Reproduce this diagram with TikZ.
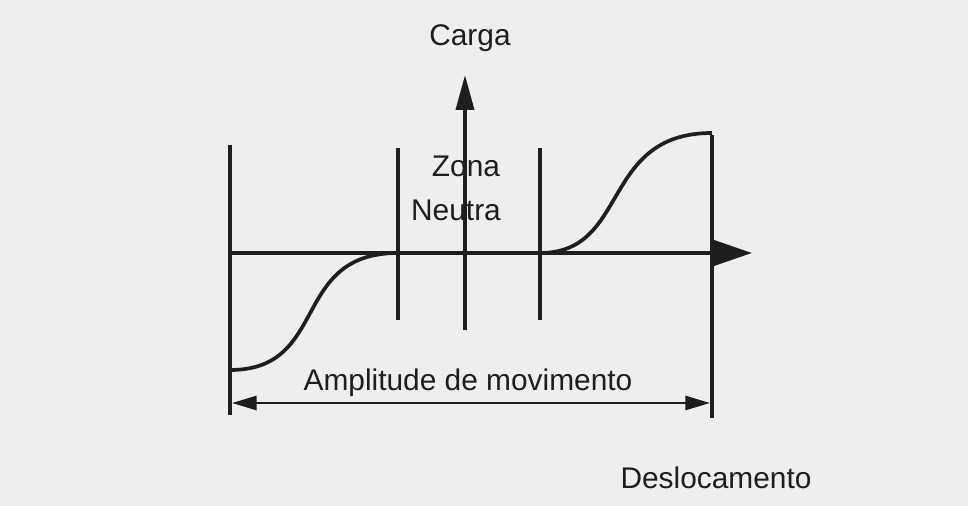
\documentclass[tikz,border=0pt]{standalone}
\usepackage{fontspec}
\setmainfont{Liberation Sans}
\usetikzlibrary{arrows.meta}
\definecolor{bg}{HTML}{EEEEEE}
\definecolor{ink}{HTML}{1E1E1E}
\tikzset{
  ln/.style={draw=ink,line width=2.1pt},
  lbl/.style={text=ink,font=\fontsize{17}{19}\selectfont,inner sep=0pt}
}
\begin{document}
\begin{tikzpicture}[x=0.02cm,y=-0.02cm]
\fill[bg] (0,0) rectangle (968,506);
\useasboundingbox (0,0) rectangle (968,506);
% verticals
\coordinate (a1) at (230,145); \coordinate (a2) at (230,415);
\coordinate (b1) at (398,148); \coordinate (b2) at (398,320);
\coordinate (c1) at (540,148); \coordinate (c2) at (540,320);
\coordinate (d1) at (712,135); \coordinate (d2) at (712,418);
\draw[ln] (a1)--(a2); \draw[ln] (b1)--(b2); \draw[ln] (c1)--(c2); \draw[ln] (d1)--(d2);
% axis
\coordinate (h1) at (230,253); \coordinate (h2) at (752,253);
\draw[ln,-{Triangle[length=0.76cm,width=0.5cm]}] (h1)--(h2);
% load arrow
\coordinate (v1) at (465,330); \coordinate (v2) at (465,75);
\draw[ln,-{Triangle[length=0.7cm,width=0.36cm]}] (v1)--(v2);
% curves
\coordinate (p0) at (230,370); \coordinate (p1) at (398,253);
\draw[ln] (p0) .. controls (330,370) and (290,253) .. (p1);
\coordinate (q0) at (540,253); \coordinate (q1) at (712,133);
\draw[ln] (q0) .. controls (630,253) and (600,133) .. (q1);
% range arrow
\coordinate (r1) at (232,403); \coordinate (r2) at (710,403);
\draw[draw=ink,line width=1.5pt,{Triangle[length=14pt,width=8pt]}-{Triangle[length=14pt,width=8pt]}] (r1)--(r2);
% labels
\node[lbl] (carga) at (470,38) {Carga};
\node[lbl] (zona) at (466,166) {Zona};
\node[lbl] (neutra) at (456,210) {Neutra};
\node[lbl] (amp) at (468,383) {Amplitude de movimento};
\node[lbl] (desl) at (716,478) {Deslocamento};
\end{tikzpicture}
\end{document}
